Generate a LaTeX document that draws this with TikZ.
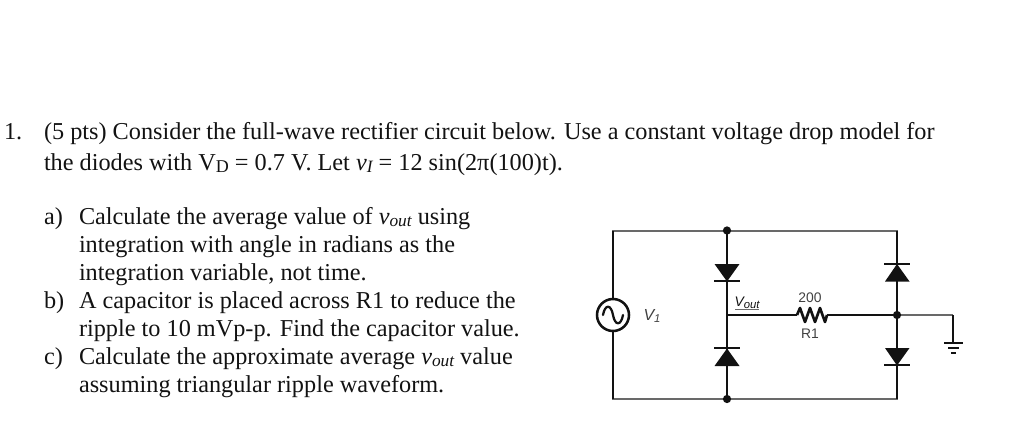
\documentclass[tikz,border=0pt]{standalone}
\usepackage{fontspec}
\setmainfont{Liberation Serif}
\setsansfont{Liberation Sans}
\definecolor{ink}{RGB}{18,18,18}
\definecolor{wiregrey}{RGB}{105,105,105}
\definecolor{labelgrey}{RGB}{65,65,65}
\tikzset{
  txt/.style={anchor=base west,inner sep=0pt,outer sep=0pt,font=\fontsize{18.2pt}{22pt}\selectfont,text=ink},
  lbl/.style={inner sep=0pt,outer sep=0pt,font=\sffamily\fontsize{10.4pt}{12pt}\selectfont,text=labelgrey},
  wire/.style={draw=ink,line width=2.1pt},
  thin wire/.style={draw=wiregrey,line width=1.5pt},
  junction/.style={circle,fill=ink,inner sep=0pt,minimum size=6.2pt},
  diodebar/.style={draw=ink,line width=1.6pt},
  diodetri/.style={fill=ink}
}
\begin{document}
\begin{tikzpicture}[x=0.75pt,y=-0.75pt]
\useasboundingbox (0,0) rectangle (1024,432);
% text
\node[txt] (n1) at (4,139) {1.};
\node[txt] (l1) at (44,139) {(5 pts) Consider the full-wave rectifier circuit below. Use a constant voltage drop model for};
\node[txt] (l2) at (44,170) {the diodes with V\raisebox{-0.2ex}{\fontsize{13.5pt}{14pt}\selectfont D} = 0.7 V. Let \textit{v\raisebox{-0.2ex}{\fontsize{13pt}{14pt}\selectfont I}} = 12 sin(2π(100)t).};
\node[txt] (a) at (44,224) {a)};
\node[txt] (a1) at (79,224) {Calculate the average value of \textit{v\raisebox{-0.2ex}{\fontsize{13pt}{14pt}\selectfont out}} using};
\node[txt] (a2) at (79,252) {integration with angle in radians as the};
\node[txt] (a3) at (79,280) {integration variable, not time.};
\node[txt] (b) at (44,308) {b)};
\node[txt] (b1) at (79,308) {A capacitor is placed across R1 to reduce the};
\node[txt] (b2) at (79,336) {ripple to 10 mVp-p. Find the capacitor value.};
\node[txt] (c) at (44,364) {c)};
\node[txt] (c1) at (79,364) {Calculate the approximate average \textit{v\raisebox{-0.2ex}{\fontsize{13pt}{14pt}\selectfont out}} value};
\node[txt] (c2) at (79,392) {assuming triangular ripple waveform.};
% circuit points
\coordinate (tl) at (613,230.5);
\coordinate (bl) at (613,399);
\coordinate (tr) at (897,230.5);
\coordinate (br) at (897,399);
\coordinate (gt) at (953,315);
\coordinate (gb) at (953,343);
\coordinate (rl) at (797,315);
\coordinate (rr) at (827,315);
\node[circle,draw=ink,line width=1.9pt,minimum size=24pt,inner sep=0pt] (src) at (613,315) {};
\coordinate (jv) at (727,315);
\coordinate (jtc) at (727,230.5);
\coordinate (jbc) at (727,399);
\coordinate (jrc) at (897,315);
% wires
\draw[thin wire] ([shift={(-0.6pt,0pt)}]tl) -- (jtc) -- ([shift={(0.6pt,0pt)}]tr);
\draw[thin wire] ([shift={(-0.6pt,0pt)}]bl) -- (jbc) -- ([shift={(0.6pt,0pt)}]br);
\draw[wire] (tl) -- (src);
\draw[wire] (src) -- (bl);
\draw[wire] (jtc) -- (jbc);
\draw[wire] (tr) -- (br);
\draw[wire] (jv) -- (rl);
\draw[wire] (rr) -- (jrc);
\draw[thin wire,line width=1.3pt] (jrc) -- (gt);
\draw[wire] (gt) -- (gb);
\node[junction] (jt) at (jtc) {};
\node[junction] (jb) at (jbc) {};
\node[junction] (jr) at (jrc) {};
% source wave
\draw[ink,line width=1.7pt,line cap=round] (603,315) .. controls (605,304) and (611,304) .. (613,315) .. controls (615,326) and (621,326) .. (623,315);
% resistor
\draw[ink,line width=2pt,line join=round] (rl) -- (800,308) -- (805,322) -- (810,308) -- (815,322) -- (820,308) -- (825,322) -- (rr);
% diodes
\fill[diodetri] (714.5,264) -- (739.5,264) -- (727,281.5) -- cycle;
\draw[diodebar] (714,281) -- (740,281);
\fill[diodetri] (714.5,366) -- (739.5,366) -- (727,348.5) -- cycle;
\draw[diodebar] (714,348) -- (740,348);
\fill[diodetri] (885,281.5) -- (909.5,281.5) -- (897,264) -- cycle;
\draw[diodebar] (884,264) -- (910,264);
\fill[diodetri] (885,348) -- (909.5,348) -- (897,365.5) -- cycle;
\draw[diodebar] (884,365) -- (910,365);
% ground
\draw[ink,line width=1.5pt] (944,343) -- (963,343);
\draw[ink,line width=1.5pt] (948,348) -- (959,348);
\draw[ink,line width=1.5pt] (951,352.5) -- (956,352.5);
% labels
\node[lbl,font=\sffamily\fontsize{12pt}{13pt}\selectfont] (vone) at (652,316) {\textit{V\raisebox{-0.2ex}{\fontsize{8.5pt}{9pt}\selectfont 1}}};
\node[lbl,text=ink] (vout) at (747,303) {\textit{V\raisebox{-0.2ex}{\fontsize{8.5pt}{9pt}\selectfont out}}};
\draw[draw=wiregrey,line width=0.7pt] (735,309) -- (759,309);
\node[lbl] (val) at (810,298) {200};
\node[lbl] (rn) at (810,334) {R1};
\end{tikzpicture}
\end{document}
